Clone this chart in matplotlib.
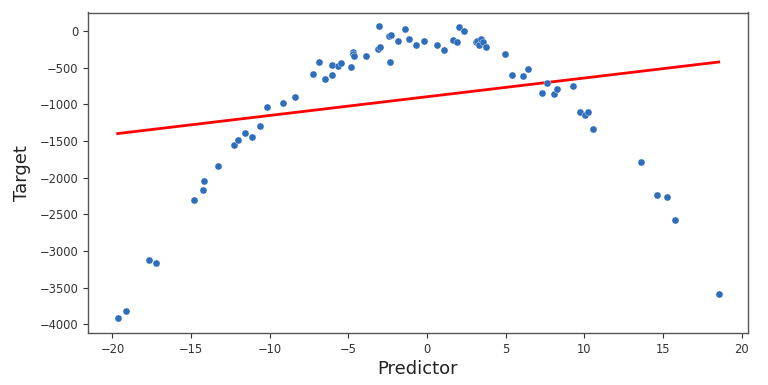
"""
Scatter of target vs predictor with a straight least-squares fit.
Values read off the reference image.
"""
import numpy as np
import matplotlib
matplotlib.use("Agg")
import matplotlib.pyplot as plt

predictor = [
    -19.66, -19.16, -17.65, -17.25, -14.79, -14.26, -14.18, -13.29, -12.25, -12.00,
    -11.57, -11.10, -10.64, -10.19, -9.17, -8.39, -7.27, -6.84, -6.50, -6.06,
    -6.04, -5.68, -5.45, -4.85, -4.72, -4.68, -4.64, -3.88, -3.13, -2.99,
    -3.05, -2.37, -2.39, -2.29, -1.84, -1.38, -1.16, -0.70, -0.19, 0.64,
    1.08, 1.67, 1.91, 2.06, 2.37, 3.10, 3.20, 3.31, 3.41, 3.54,
    3.73, 4.93, 5.37, 6.12, 6.43, 7.33, 7.65, 8.07, 8.24, 9.28,
    9.73, 10.04, 10.26, 10.57, 13.57, 14.62, 15.23, 15.73, 18.54,
]
target = [
    -3922, -3823, -3130, -3163, -2304, -2164, -2050, -1839, -1552, -1488,
    -1388, -1438, -1293, -1033, -987, -905, -583, -423, -646, -455,
    -601, -474, -437, -487, -283, -318, -341, -341, -246, -214,
    64, -423, -64, -51, -132, 27, -100, -182, -132, -182,
    -263, -127, -154, 51, -4, -154, -132, -182, -105, -150,
    -214, -310, -601, -617, -519, -842, -714, -860, -792, -747,
    -1102, -1151, -1102, -1342, -1792, -2243, -2262, -2576, -3586,
]

x = np.array(predictor)
y = np.array(target)
slope, intercept = np.polyfit(x, y, 1)
y_fit = slope * x + intercept

fig = plt.figure(figsize=(7.68, 3.85), dpi=100)
ax = fig.add_axes([88 / 768, 1 - 333 / 385, 660 / 768, 320.5 / 385])

ax.scatter(x, y, s=26, color="#2f6eba", edgecolor="white", linewidth=0.25, zorder=3)
order = np.argsort(x)
ax.plot(x[order], y_fit[order], color="red", lw=2, zorder=2)

ax.set_xlim(-21.55, 20.4)
ax.set_ylim(-4120, 255)
ax.set_xticks(np.arange(-20, 21, 5))
ax.set_yticks(np.arange(-4000, 1, 500))
ax.tick_params(labelsize=8.3, colors="#333333", length=3.5, width=0.8)
for s in ax.spines.values():
    s.set_color("#555555")
    s.set_linewidth(1.0)

ax.set_xlabel("Predictor", fontsize=13, color="#222222", labelpad=3)
ax.set_ylabel("Target", fontsize=13, color="#222222", labelpad=6)

fig.savefig("out.png", dpi=100)
plt.close(fig)
